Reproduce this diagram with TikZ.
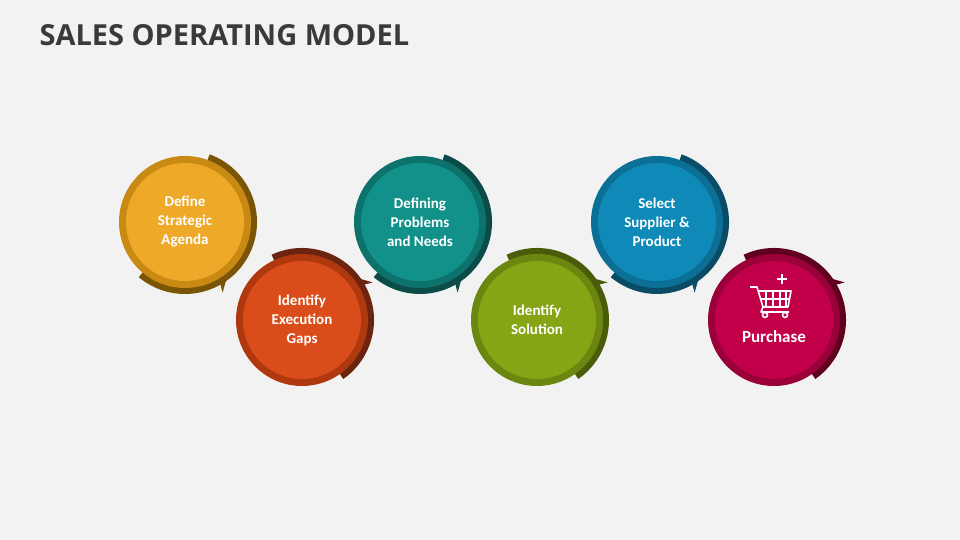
\documentclass[tikz,border=0pt]{standalone}
\usepackage{fontspec}
\setmainfont{Carlito}
\newfontfamily\titlefont{Open Sans}
\definecolor{bg}{HTML}{F2F2F2}
\definecolor{ttl}{HTML}{3A3A3A}
\definecolor{m1}{HTML}{EFA928}\definecolor{r1}{HTML}{C98A14}\definecolor{b1}{HTML}{7A5506}
\definecolor{m2}{HTML}{DA4D1A}\definecolor{r2}{HTML}{B0380F}\definecolor{b2}{HTML}{6B2410}
\definecolor{m3}{HTML}{12918A}\definecolor{r3}{HTML}{0D716C}\definecolor{b3}{HTML}{0B4B48}
\definecolor{m4}{HTML}{86A514}\definecolor{r4}{HTML}{6B8710}\definecolor{b4}{HTML}{4A5C0A}
\definecolor{m5}{HTML}{0F8AB8}\definecolor{r5}{HTML}{0B6F96}\definecolor{b5}{HTML}{0A4C66}
\definecolor{m6}{HTML}{C20049}\definecolor{r6}{HTML}{9A0039}\definecolor{b6}{HTML}{60001F}
\tikzset{lbl/.style={text=white,font=\bfseries\fontsize{15}{19}\selectfont,align=center}}
\newcommand{\stepcirc}[9]{%
 \begin{scope}[shift={(#2pt,#3pt)},x=1pt,y=1pt]
  \fill[#6] (#7:72) arc[start angle=#7,end angle=#8,radius=72] -- (0,0) -- cycle;
  \fill[#6] (#9:62) -- (#9-4:80) -- (#9+16:62) -- cycle;
  \fill[#5] (0,0) circle (66);
  \fill[#4] (0,0) circle (59);
  \node[lbl] (#1) at (0,0) {};
 \end{scope}}
\begin{document}
\begin{tikzpicture}[x=1pt,y=1pt]
\fill[bg] (0,0) rectangle (960,540);
\useasboundingbox (0,0) rectangle (960,540);
\node[anchor=west,text=ttl,font=\titlefont\bfseries\fontsize{29}{32}\selectfont] (title) at (36,505) {SALES OPERATING MODEL};
\stepcirc{c1}{185}{318}{m1}{r1}{b1}{70}{-130}{-58}
\stepcirc{c2}{302}{220}{m2}{r2}{b2}{115}{-55}{32}
\stepcirc{c3}{420}{318}{m3}{r3}{b3}{70}{-130}{-58}
\stepcirc{c4}{537}{220}{m4}{r4}{b4}{115}{-55}{32}
\stepcirc{c5}{657}{318}{m5}{r5}{b5}{70}{-130}{-58}
\stepcirc{c6}{774}{220}{m6}{r6}{b6}{115}{-55}{32}
\node[lbl] at (c1) {Define\\Strategic\\Agenda};
\node[lbl] at (c2) {Identify\\Execution\\Gaps};
\node[lbl] at (c3) {Defining\\Problems\\and Needs};
\node[lbl] at (c4) {Identify\\Solution};
\node[lbl] at (c5) {Select\\Supplier \&\\Product};
\node[lbl,font=\bfseries\fontsize{17}{20}\selectfont] (p) at ([yshift=-17pt]c6) {Purchase};
% cart icon
\begin{scope}[shift={(c6)},white,line width=1.6pt,line join=round]
 \draw (-24,33) -- (-17,33) -- (-11,13) -- (14,13);
 \draw (-16,29) -- (17,29) -- (14,13);
 \draw (-13.5,21) -- (15.5,21);
 \foreach \x in {-8,-1,6,12} \draw (\x,29) -- (\x,13);
 \draw (-11,13) -- (-13,8) -- (15,8);
 \draw (-9,5) circle (2.5); \draw (11,5) circle (2.5);
 \draw (8,36) -- (8,46); \draw (3,41) -- (13,41);
\end{scope}
\end{tikzpicture}
\end{document}
